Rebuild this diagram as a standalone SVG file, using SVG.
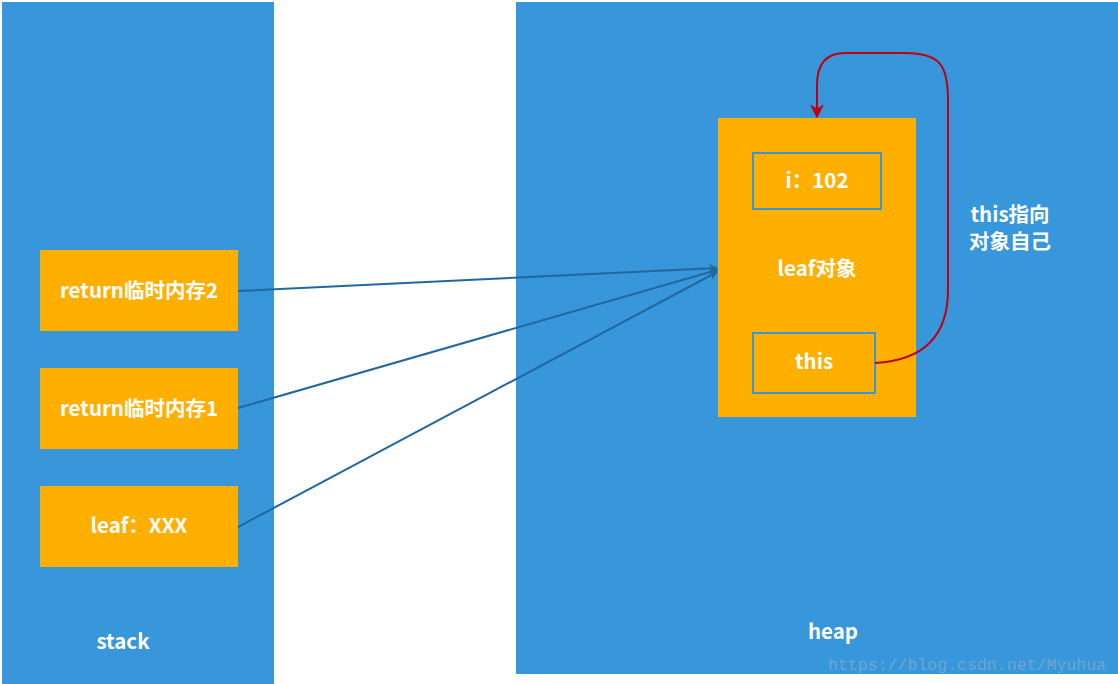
<svg xmlns="http://www.w3.org/2000/svg" width="1118" height="684" viewBox="0 0 1118 684">
<style>
.panel{fill:#3797DA}
.box{fill:#FFAF00}
.field{fill:#FFAF00;stroke:#3797DA;stroke-width:2}
.t{font-family:"Noto Sans CJK SC","Noto Sans",sans-serif;font-weight:600;font-size:20.5px;fill:#fff;text-anchor:middle}
.wm{font-family:"Liberation Mono",monospace;font-size:16.5px;fill:#6FA6CF}
.blue{fill:none;stroke:#2268A0;stroke-width:2}
.red{fill:none;stroke:#C00010;stroke-width:2}
</style>
<defs>
<marker id="ab" viewBox="0 0 10 10" refX="9" refY="5" markerWidth="9" markerHeight="9" markerUnits="userSpaceOnUse" orient="auto"><path d="M0,0 L10,5 L0,10 L3,5 Z" fill="#2268A0"/></marker>
<marker id="ar" viewBox="0 0 10 10" refX="9" refY="5" markerWidth="14" markerHeight="14" markerUnits="userSpaceOnUse" orient="auto"><path d="M0,0 L10,5 L0,10 L3,5 Z" fill="#C00010"/></marker>
</defs>
<rect width="1118" height="684" fill="#fff"/>
<g id="stack"><rect class="panel" x="2" y="2" width="272" height="682"/><text class="t" x="123" y="649">stack</text></g>
<g id="heap"><rect class="panel" x="516" y="2" width="602" height="672"/><text class="t" x="833" y="639">heap</text></g>
<g id="ret2"><rect class="box" x="40" y="250" width="198" height="81"/><text class="t" x="139" y="298">return临时内存2</text></g>
<g id="ret1"><rect class="box" x="40" y="368" width="198" height="81"/><text class="t" x="139" y="416">return临时内存1</text></g>
<g id="leafvar"><rect class="box" x="40" y="486" width="198" height="81"/><text class="t" x="139" y="533">leaf：XXX</text></g>
<g id="leafobj"><rect class="box" x="718" y="118" width="198" height="299"/><text class="t" x="817" y="276">leaf对象</text></g>
<g id="fieldi"><rect class="field" x="753" y="153" width="128" height="56"/><text class="t" x="817" y="188">i：102</text></g>
<g id="fieldthis"><rect class="field" x="753" y="333" width="122" height="60"/><text class="t" x="814" y="369">this</text></g>
<g id="note"><text class="t" x="1010" y="222">this指向</text><text class="t" x="1010" y="249">对象自己</text></g>
<g id="connectors">
<path class="blue" d="M238,291 L717,268" marker-end="url(#ab)"/>
<path class="blue" d="M238,408 L717,270" marker-end="url(#ab)"/>
<path class="blue" d="M238,527 L717,272" marker-end="url(#ab)"/>
<path class="red" d="M875,363 C930,360 948,330 948,290 L948,100 C948,65 940,53 905,53 L845,53 C825,53 817,65 817,85 L817,117" marker-end="url(#ar)"/>
</g>
<text class="wm" x="828" y="670" textLength="278">https://blog.csdn.net/Myuhua</text>
</svg>
